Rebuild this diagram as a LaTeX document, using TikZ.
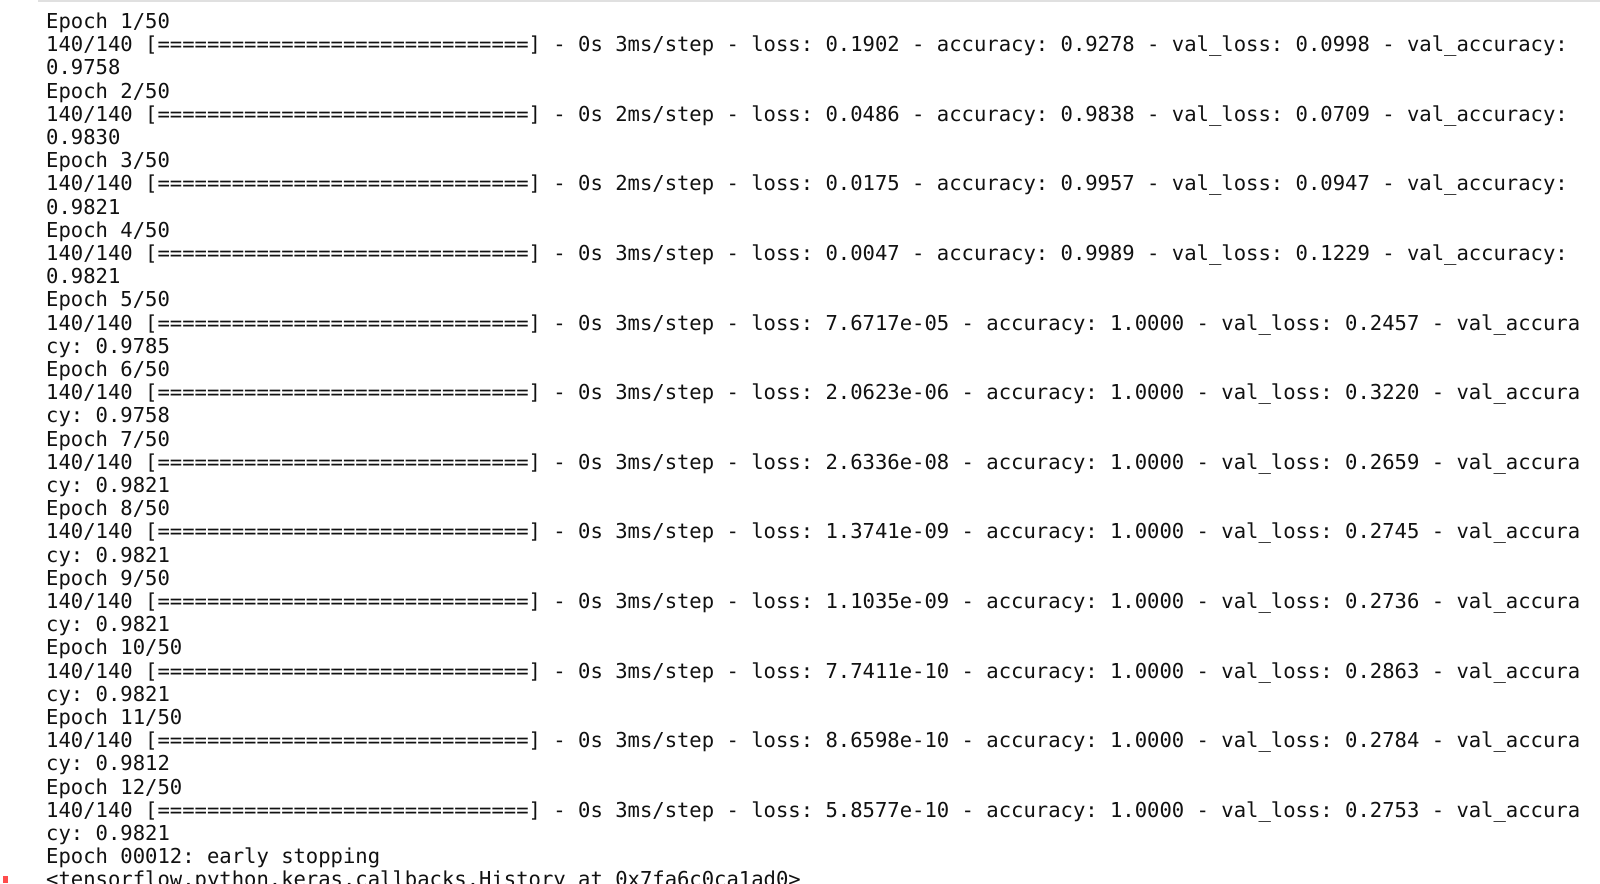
\documentclass[tikz,border=0pt]{standalone}
\usepackage{fontspec}
\setmonofont{DejaVu Sans Mono}
\definecolor{txt}{HTML}{111111}
\begin{document}
\begin{tikzpicture}[x=1pt,y=-1pt,
  ln/.style={anchor=base west,inner sep=0pt,text=txt,font=\ttfamily\fontsize{20.55}{23}\selectfont}]
\clip (0,0) rectangle (1600,883);
\useasboundingbox (0,0) rectangle (1600,883);
\fill[white] (0,0) rectangle (1600,883);
\draw[black!12,line width=2pt] (38,1) -- (1600,1);
\fill[red!70] (3,876) rectangle (8,883);
\newcommand\B{140/140 [==============================] - 0s }
\foreach \t [count=\i] in {
Epoch 1/50,
\B3ms/step - loss: 0.1902 - accuracy: 0.9278 - val\_loss: 0.0998 - val\_accuracy:,
0.9758,
Epoch 2/50,
\B2ms/step - loss: 0.0486 - accuracy: 0.9838 - val\_loss: 0.0709 - val\_accuracy:,
0.9830,
Epoch 3/50,
\B2ms/step - loss: 0.0175 - accuracy: 0.9957 - val\_loss: 0.0947 - val\_accuracy:,
0.9821,
Epoch 4/50,
\B3ms/step - loss: 0.0047 - accuracy: 0.9989 - val\_loss: 0.1229 - val\_accuracy:,
0.9821,
Epoch 5/50,
\B3ms/step - loss: 7.6717e-05 - accuracy: 1.0000 - val\_loss: 0.2457 - val\_accura,
cy: 0.9785,
Epoch 6/50,
\B3ms/step - loss: 2.0623e-06 - accuracy: 1.0000 - val\_loss: 0.3220 - val\_accura,
cy: 0.9758,
Epoch 7/50,
\B3ms/step - loss: 2.6336e-08 - accuracy: 1.0000 - val\_loss: 0.2659 - val\_accura,
cy: 0.9821,
Epoch 8/50,
\B3ms/step - loss: 1.3741e-09 - accuracy: 1.0000 - val\_loss: 0.2745 - val\_accura,
cy: 0.9821,
Epoch 9/50,
\B3ms/step - loss: 1.1035e-09 - accuracy: 1.0000 - val\_loss: 0.2736 - val\_accura,
cy: 0.9821,
Epoch 10/50,
\B3ms/step - loss: 7.7411e-10 - accuracy: 1.0000 - val\_loss: 0.2863 - val\_accura,
cy: 0.9821,
Epoch 11/50,
\B3ms/step - loss: 8.6598e-10 - accuracy: 1.0000 - val\_loss: 0.2784 - val\_accura,
cy: 0.9812,
Epoch 12/50,
\B3ms/step - loss: 5.8577e-10 - accuracy: 1.0000 - val\_loss: 0.2753 - val\_accura,
cy: 0.9821,
Epoch 00012: early stopping,
<tensorflow.python.keras.callbacks.History at 0x7fa6c0ca1ad0>}
{\node[ln] (l\i) at (46,{28.5+(\i-1)*23.2}) {\t};}
\end{tikzpicture}
\end{document}
